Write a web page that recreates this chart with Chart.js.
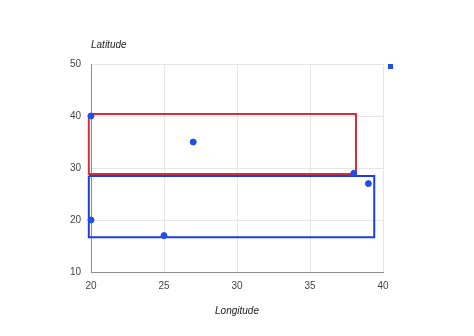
<!DOCTYPE html>
<html>
<head>
<meta charset="utf-8">
<script src="https://cdn.jsdelivr.net/npm/chart.js@4"></script>
<style>
  body { margin: 0; background: #fff; }
</style>
</head>
<body>
<canvas id="chart" width="474" height="336"></canvas>
<script>
'use strict'

// ************* Data ****************
let longitudes = [20, 27, 38, 39, 20, 25];
let latitudes = [40, 35, 29, 27, 20, 17];

// box outlines round the two groups of points (closed loops)
let redBoxX = [19.85, 38.15, 38.15, 19.85, 19.85];
let redBoxY = [40.4, 40.4, 28.85, 28.85, 40.4];
let blueBoxX = [19.85, 39.4, 39.4, 19.85, 19.85];
let blueBoxY = [28.45, 28.45, 16.7, 16.7, 28.45];

let xTicks = [20, 25, 30, 35, 40];
let yTicks = [10, 20, 30, 40, 50];

let pointColor = '#1f4fe4';

// ************ Helpers **********
function toXY(xs, ys) {
  let out = [];
  for (let i = 0; i < xs.length; i++) {
    out.push({ x: xs[i], y: ys[i] });
  }
  return out;
}

// y title sits above the axis, and the legend has only a marker
let extrasPlugin = {
  id: 'extras',
  afterDraw(chart) {
    let ctx = chart.ctx;
    let area = chart.chartArea;
    ctx.save();
    ctx.fillStyle = '#222';
    ctx.font = 'italic 10px "Liberation Sans", Arial, sans-serif';
    ctx.textAlign = 'left';
    ctx.textBaseline = 'middle';
    ctx.fillText('Latitude', area.left, area.top - 19);
    ctx.fillStyle = pointColor;
    ctx.fillRect(area.right + 5, area.top, 5, 5);
    ctx.restore();
  }
};

let chart = document.getElementById('chart');

new Chart(chart, {
  type: 'scatter',
  data: {
    datasets: [
      {
        label: 'red box',
        data: toXY(redBoxX, redBoxY),
        showLine: true,
        borderColor: '#d12f3c',
        borderWidth: 2,
        pointRadius: 0,
        fill: false,
        clip: false,
        order: 2
      },
      {
        label: 'blue box',
        data: toXY(blueBoxX, blueBoxY),
        showLine: true,
        borderColor: '#1b3fe2',
        borderWidth: 2,
        pointRadius: 0,
        fill: false,
        clip: false,
        order: 2
      },
      {
        label: '',
        data: toXY(longitudes, latitudes),
        backgroundColor: pointColor,
        borderColor: pointColor,
        pointRadius: 3,
        clip: false,
        order: 1
      }
    ]
  },
  options: {
    responsive: false,
    animation: false,
    layout: { padding: { top: 64, right: 91, bottom: 0, left: 0 } },
    plugins: {
      legend: { display: false },
      tooltip: { enabled: false }
    },
    scales: {
      x: {
        type: 'linear',
        min: 20,
        max: 40,
        afterBuildTicks(scale) {
          scale.ticks = xTicks.map(v => ({ value: v }));
        },
        afterFit(scale) { scale.height = 64; },
        grid: { color: '#e6e6e6', drawTicks: false },
        border: { color: '#8c8c8c', width: 1 },
        ticks: {
          color: '#444',
          padding: 8,
          font: { family: '"Liberation Sans", Arial, sans-serif', size: 10 }
        },
        title: {
          display: true,
          text: 'Longitude',
          color: '#222',
          padding: { top: 0, bottom: 19 },
          font: { family: '"Liberation Sans", Arial, sans-serif', size: 10, style: 'italic' }
        }
      },
      y: {
        type: 'linear',
        min: 10,
        max: 50,
        afterBuildTicks(scale) {
          scale.ticks = yTicks.map(v => ({ value: v }));
        },
        afterFit(scale) { scale.width = 91; },
        grid: { color: '#e6e6e6', drawTicks: false },
        border: { color: '#8c8c8c', width: 1 },
        ticks: {
          color: '#444',
          padding: 10,
          font: { family: '"Liberation Sans", Arial, sans-serif', size: 10 }
        }
      }
    }
  },
  plugins: [extrasPlugin]
});
</script>
</body>
</html>
